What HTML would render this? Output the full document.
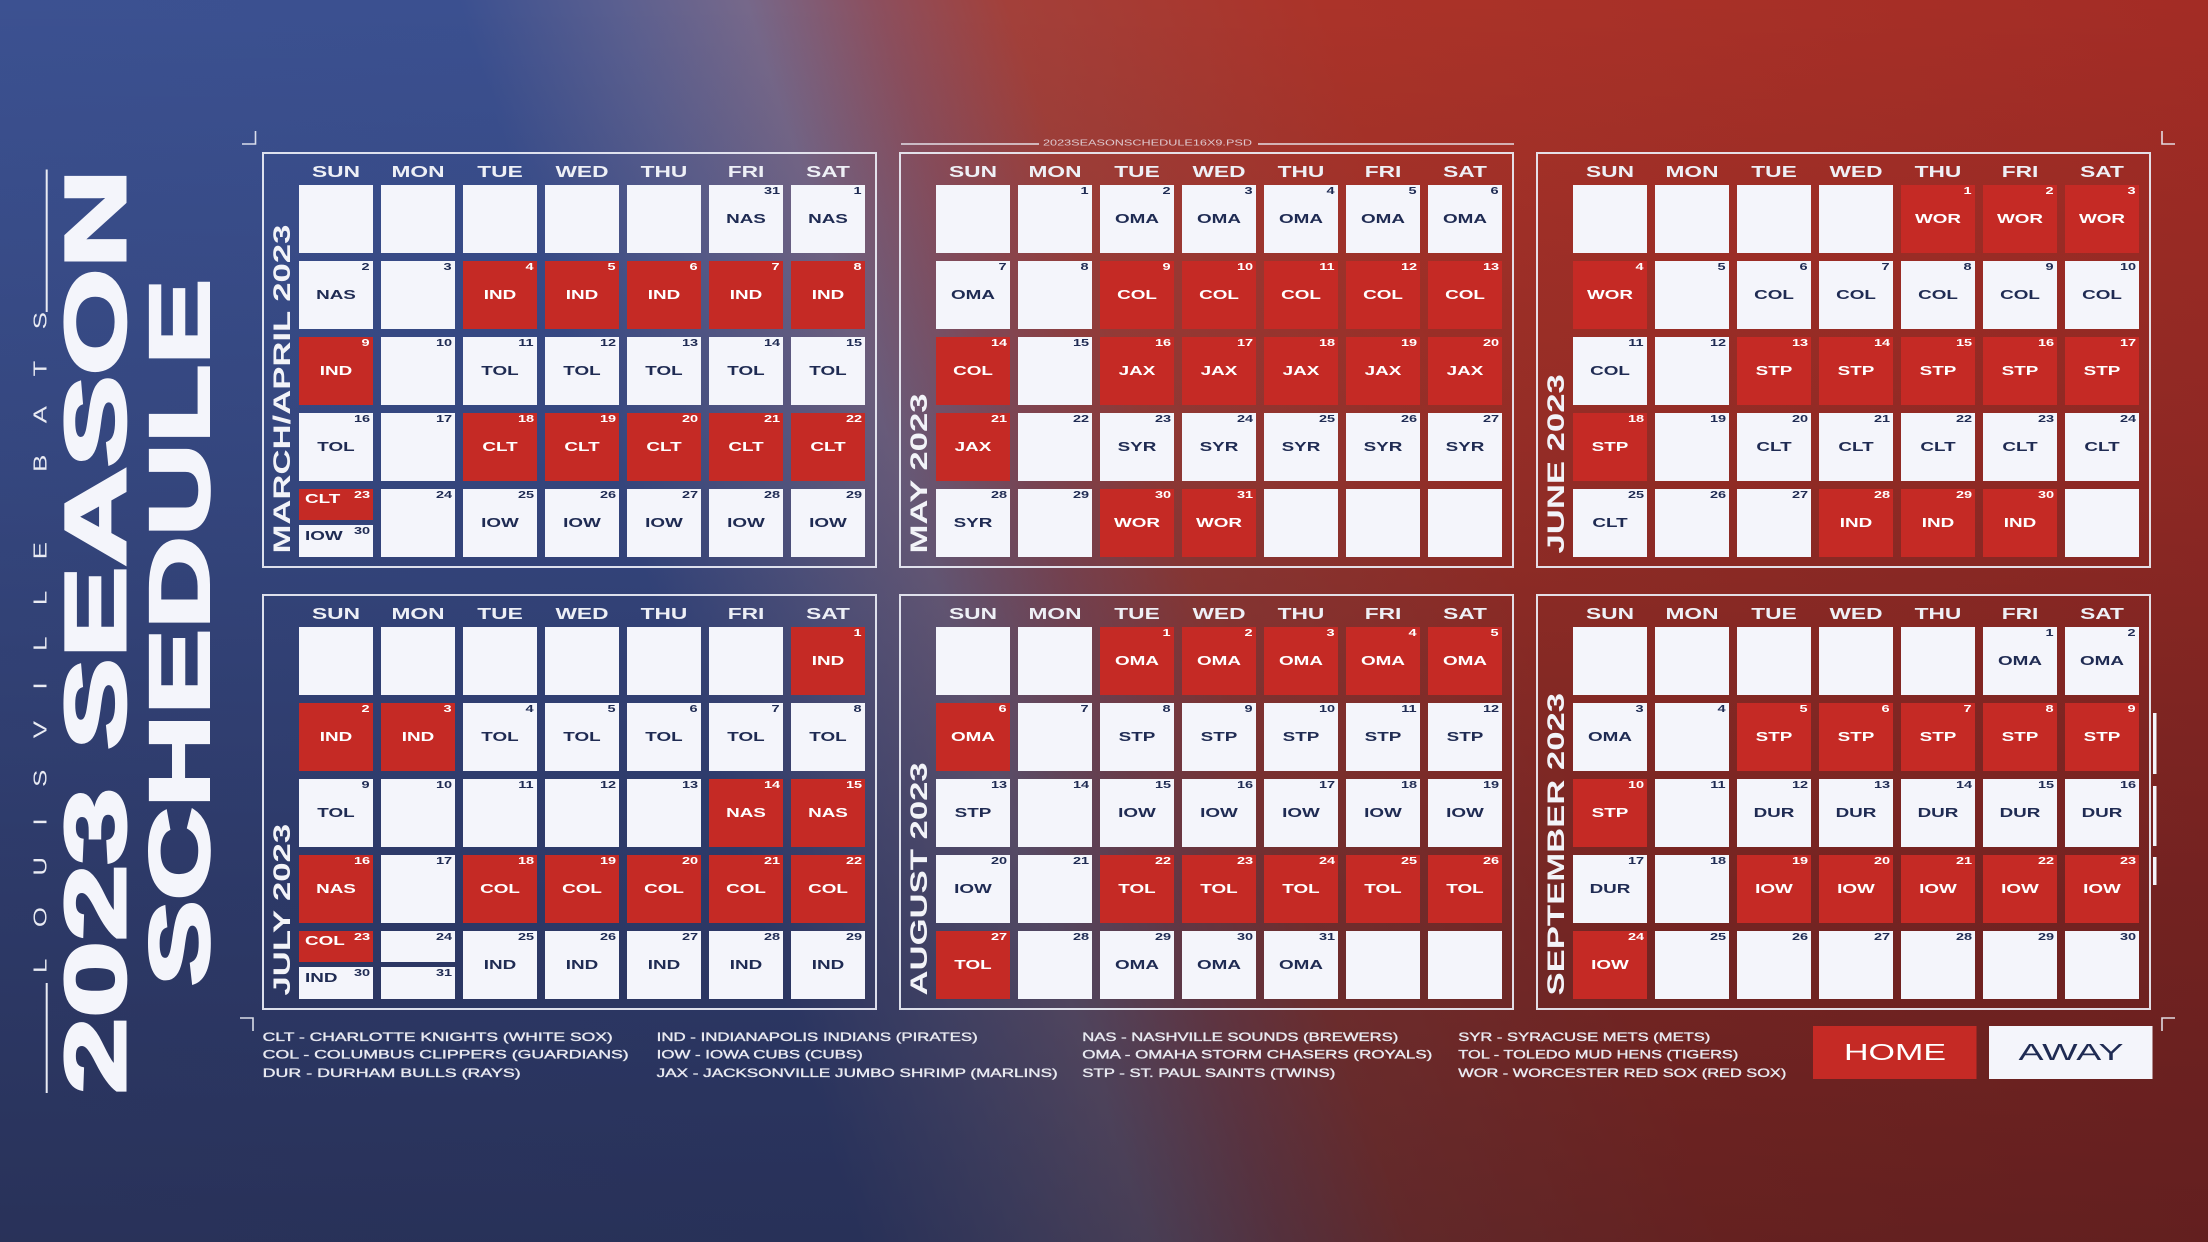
<!DOCTYPE html>
<html><head><meta charset="utf-8">
<style>
*{box-sizing:border-box}
body{margin:0;background:#222}
#w{position:relative;width:2208px;height:1242px;overflow:hidden;font-family:"Liberation Sans",Arial,sans-serif;
background:
linear-gradient(180deg,rgba(0,0,0,0) 0%,rgba(14,10,22,.14) 35%,rgba(16,10,22,.34) 72%,rgba(18,12,22,.46) 100%),
linear-gradient(72deg,#3c5292 0%,#3b5090 33%,#5a5f90 39%,#76688a 44%,#8c4f5e 49%,#a3403a 54%,#ab3329 66%,#a32c25 100%);}
.cal{position:absolute;width:615px;height:416px;border:2px solid rgba(236,238,246,.92)}
.hd{position:absolute;left:35px;top:8px;display:grid;grid-template-columns:repeat(7,74px);column-gap:8px}
.hd span{display:block;text-align:center;font-weight:bold;font-size:16px;line-height:22px;color:#eef0f6;transform:scaleX(1.42)}
.g{position:absolute;left:35px;top:31px;display:grid;grid-template-columns:repeat(7,74px);grid-auto-rows:68px;gap:8px}
.c{position:relative;background:#f4f5fb;color:#1f2b53}
.r{background:#c52a25 !important;color:#fff !important}
.c b{position:absolute;left:0;right:0;top:0;line-height:68px;text-align:center;font-size:13px;font-weight:bold;transform:scaleX(1.45);white-space:nowrap}
.c i{position:absolute;right:3px;top:2px;font-style:normal;font-weight:bold;font-size:10px;line-height:10px;transform:scaleX(1.45);transform-origin:100% 50%}
.c.sp{background:transparent}
.sp .t,.sp .u{position:absolute;left:0;right:0;background:#f4f5fb;color:#1f2b53}
.sp .t{top:0;height:31px}
.sp .u{top:36px;height:32px}
.sp b{left:6px;right:auto;text-align:left;transform-origin:0 50%;line-height:20px}
.sp .u b{line-height:22px}
svg{position:absolute;left:0;top:0}
.ml{font-weight:bold;font-size:23.6px;fill:#f2f3f8}
.lg{font-size:12px;fill:#e9eaf1;stroke:#e9eaf1;stroke-width:.35}
</style></head><body>
<div id="w">

<!-- MARCH / APRIL -->
<div class="cal" style="left:262px;top:152px">
<div class="hd"><span>SUN</span><span>MON</span><span>TUE</span><span>WED</span><span>THU</span><span>FRI</span><span>SAT</span></div>
<div class="g">
<div class="c"></div><div class="c"></div><div class="c"></div><div class="c"></div><div class="c"></div><div class="c"><i>31</i><b>NAS</b></div><div class="c"><i>1</i><b>NAS</b></div>
<div class="c"><i>2</i><b>NAS</b></div><div class="c"><i>3</i></div><div class="c r"><i>4</i><b>IND</b></div><div class="c r"><i>5</i><b>IND</b></div><div class="c r"><i>6</i><b>IND</b></div><div class="c r"><i>7</i><b>IND</b></div><div class="c r"><i>8</i><b>IND</b></div>
<div class="c r"><i>9</i><b>IND</b></div><div class="c"><i>10</i></div><div class="c"><i>11</i><b>TOL</b></div><div class="c"><i>12</i><b>TOL</b></div><div class="c"><i>13</i><b>TOL</b></div><div class="c"><i>14</i><b>TOL</b></div><div class="c"><i>15</i><b>TOL</b></div>
<div class="c"><i>16</i><b>TOL</b></div><div class="c"><i>17</i></div><div class="c r"><i>18</i><b>CLT</b></div><div class="c r"><i>19</i><b>CLT</b></div><div class="c r"><i>20</i><b>CLT</b></div><div class="c r"><i>21</i><b>CLT</b></div><div class="c r"><i>22</i><b>CLT</b></div>
<div class="c sp"><div class="t r"><i>23</i><b>CLT</b></div><div class="u"><i>30</i><b>IOW</b></div></div><div class="c"><i>24</i></div><div class="c"><i>25</i><b>IOW</b></div><div class="c"><i>26</i><b>IOW</b></div><div class="c"><i>27</i><b>IOW</b></div><div class="c"><i>28</i><b>IOW</b></div><div class="c"><i>29</i><b>IOW</b></div>
</div></div>

<!-- MAY -->
<div class="cal" style="left:899px;top:152px">
<div class="hd"><span>SUN</span><span>MON</span><span>TUE</span><span>WED</span><span>THU</span><span>FRI</span><span>SAT</span></div>
<div class="g">
<div class="c"></div><div class="c"><i>1</i></div><div class="c"><i>2</i><b>OMA</b></div><div class="c"><i>3</i><b>OMA</b></div><div class="c"><i>4</i><b>OMA</b></div><div class="c"><i>5</i><b>OMA</b></div><div class="c"><i>6</i><b>OMA</b></div>
<div class="c"><i>7</i><b>OMA</b></div><div class="c"><i>8</i></div><div class="c r"><i>9</i><b>COL</b></div><div class="c r"><i>10</i><b>COL</b></div><div class="c r"><i>11</i><b>COL</b></div><div class="c r"><i>12</i><b>COL</b></div><div class="c r"><i>13</i><b>COL</b></div>
<div class="c r"><i>14</i><b>COL</b></div><div class="c"><i>15</i></div><div class="c r"><i>16</i><b>JAX</b></div><div class="c r"><i>17</i><b>JAX</b></div><div class="c r"><i>18</i><b>JAX</b></div><div class="c r"><i>19</i><b>JAX</b></div><div class="c r"><i>20</i><b>JAX</b></div>
<div class="c r"><i>21</i><b>JAX</b></div><div class="c"><i>22</i></div><div class="c"><i>23</i><b>SYR</b></div><div class="c"><i>24</i><b>SYR</b></div><div class="c"><i>25</i><b>SYR</b></div><div class="c"><i>26</i><b>SYR</b></div><div class="c"><i>27</i><b>SYR</b></div>
<div class="c"><i>28</i><b>SYR</b></div><div class="c"><i>29</i></div><div class="c r"><i>30</i><b>WOR</b></div><div class="c r"><i>31</i><b>WOR</b></div><div class="c"></div><div class="c"></div><div class="c"></div>
</div></div>

<!-- JUNE -->
<div class="cal" style="left:1536px;top:152px">
<div class="hd"><span>SUN</span><span>MON</span><span>TUE</span><span>WED</span><span>THU</span><span>FRI</span><span>SAT</span></div>
<div class="g">
<div class="c"></div><div class="c"></div><div class="c"></div><div class="c"></div><div class="c r"><i>1</i><b>WOR</b></div><div class="c r"><i>2</i><b>WOR</b></div><div class="c r"><i>3</i><b>WOR</b></div>
<div class="c r"><i>4</i><b>WOR</b></div><div class="c"><i>5</i></div><div class="c"><i>6</i><b>COL</b></div><div class="c"><i>7</i><b>COL</b></div><div class="c"><i>8</i><b>COL</b></div><div class="c"><i>9</i><b>COL</b></div><div class="c"><i>10</i><b>COL</b></div>
<div class="c"><i>11</i><b>COL</b></div><div class="c"><i>12</i></div><div class="c r"><i>13</i><b>STP</b></div><div class="c r"><i>14</i><b>STP</b></div><div class="c r"><i>15</i><b>STP</b></div><div class="c r"><i>16</i><b>STP</b></div><div class="c r"><i>17</i><b>STP</b></div>
<div class="c r"><i>18</i><b>STP</b></div><div class="c"><i>19</i></div><div class="c"><i>20</i><b>CLT</b></div><div class="c"><i>21</i><b>CLT</b></div><div class="c"><i>22</i><b>CLT</b></div><div class="c"><i>23</i><b>CLT</b></div><div class="c"><i>24</i><b>CLT</b></div>
<div class="c"><i>25</i><b>CLT</b></div><div class="c"><i>26</i></div><div class="c"><i>27</i></div><div class="c r"><i>28</i><b>IND</b></div><div class="c r"><i>29</i><b>IND</b></div><div class="c r"><i>30</i><b>IND</b></div><div class="c"></div>
</div></div>

<!-- JULY -->
<div class="cal" style="left:262px;top:594px">
<div class="hd"><span>SUN</span><span>MON</span><span>TUE</span><span>WED</span><span>THU</span><span>FRI</span><span>SAT</span></div>
<div class="g">
<div class="c"></div><div class="c"></div><div class="c"></div><div class="c"></div><div class="c"></div><div class="c"></div><div class="c r"><i>1</i><b>IND</b></div>
<div class="c r"><i>2</i><b>IND</b></div><div class="c r"><i>3</i><b>IND</b></div><div class="c"><i>4</i><b>TOL</b></div><div class="c"><i>5</i><b>TOL</b></div><div class="c"><i>6</i><b>TOL</b></div><div class="c"><i>7</i><b>TOL</b></div><div class="c"><i>8</i><b>TOL</b></div>
<div class="c"><i>9</i><b>TOL</b></div><div class="c"><i>10</i></div><div class="c"><i>11</i></div><div class="c"><i>12</i></div><div class="c"><i>13</i></div><div class="c r"><i>14</i><b>NAS</b></div><div class="c r"><i>15</i><b>NAS</b></div>
<div class="c r"><i>16</i><b>NAS</b></div><div class="c"><i>17</i></div><div class="c r"><i>18</i><b>COL</b></div><div class="c r"><i>19</i><b>COL</b></div><div class="c r"><i>20</i><b>COL</b></div><div class="c r"><i>21</i><b>COL</b></div><div class="c r"><i>22</i><b>COL</b></div>
<div class="c sp"><div class="t r"><i>23</i><b>COL</b></div><div class="u"><i>30</i><b>IND</b></div></div><div class="c sp"><div class="t"><i>24</i></div><div class="u"><i>31</i></div></div><div class="c"><i>25</i><b>IND</b></div><div class="c"><i>26</i><b>IND</b></div><div class="c"><i>27</i><b>IND</b></div><div class="c"><i>28</i><b>IND</b></div><div class="c"><i>29</i><b>IND</b></div>
</div></div>

<!-- AUGUST -->
<div class="cal" style="left:899px;top:594px">
<div class="hd"><span>SUN</span><span>MON</span><span>TUE</span><span>WED</span><span>THU</span><span>FRI</span><span>SAT</span></div>
<div class="g">
<div class="c"></div><div class="c"></div><div class="c r"><i>1</i><b>OMA</b></div><div class="c r"><i>2</i><b>OMA</b></div><div class="c r"><i>3</i><b>OMA</b></div><div class="c r"><i>4</i><b>OMA</b></div><div class="c r"><i>5</i><b>OMA</b></div>
<div class="c r"><i>6</i><b>OMA</b></div><div class="c"><i>7</i></div><div class="c"><i>8</i><b>STP</b></div><div class="c"><i>9</i><b>STP</b></div><div class="c"><i>10</i><b>STP</b></div><div class="c"><i>11</i><b>STP</b></div><div class="c"><i>12</i><b>STP</b></div>
<div class="c"><i>13</i><b>STP</b></div><div class="c"><i>14</i></div><div class="c"><i>15</i><b>IOW</b></div><div class="c"><i>16</i><b>IOW</b></div><div class="c"><i>17</i><b>IOW</b></div><div class="c"><i>18</i><b>IOW</b></div><div class="c"><i>19</i><b>IOW</b></div>
<div class="c"><i>20</i><b>IOW</b></div><div class="c"><i>21</i></div><div class="c r"><i>22</i><b>TOL</b></div><div class="c r"><i>23</i><b>TOL</b></div><div class="c r"><i>24</i><b>TOL</b></div><div class="c r"><i>25</i><b>TOL</b></div><div class="c r"><i>26</i><b>TOL</b></div>
<div class="c r"><i>27</i><b>TOL</b></div><div class="c"><i>28</i></div><div class="c"><i>29</i><b>OMA</b></div><div class="c"><i>30</i><b>OMA</b></div><div class="c"><i>31</i><b>OMA</b></div><div class="c"></div><div class="c"></div>
</div></div>

<!-- SEPTEMBER -->
<div class="cal" style="left:1536px;top:594px">
<div class="hd"><span>SUN</span><span>MON</span><span>TUE</span><span>WED</span><span>THU</span><span>FRI</span><span>SAT</span></div>
<div class="g">
<div class="c"></div><div class="c"></div><div class="c"></div><div class="c"></div><div class="c"></div><div class="c"><i>1</i><b>OMA</b></div><div class="c"><i>2</i><b>OMA</b></div>
<div class="c"><i>3</i><b>OMA</b></div><div class="c"><i>4</i></div><div class="c r"><i>5</i><b>STP</b></div><div class="c r"><i>6</i><b>STP</b></div><div class="c r"><i>7</i><b>STP</b></div><div class="c r"><i>8</i><b>STP</b></div><div class="c r"><i>9</i><b>STP</b></div>
<div class="c r"><i>10</i><b>STP</b></div><div class="c"><i>11</i></div><div class="c"><i>12</i><b>DUR</b></div><div class="c"><i>13</i><b>DUR</b></div><div class="c"><i>14</i><b>DUR</b></div><div class="c"><i>15</i><b>DUR</b></div><div class="c"><i>16</i><b>DUR</b></div>
<div class="c"><i>17</i><b>DUR</b></div><div class="c"><i>18</i></div><div class="c r"><i>19</i><b>IOW</b></div><div class="c r"><i>20</i><b>IOW</b></div><div class="c r"><i>21</i><b>IOW</b></div><div class="c r"><i>22</i><b>IOW</b></div><div class="c r"><i>23</i><b>IOW</b></div>
<div class="c r"><i>24</i><b>IOW</b></div><div class="c"><i>25</i></div><div class="c"><i>26</i></div><div class="c"><i>27</i></div><div class="c"><i>28</i></div><div class="c"><i>29</i></div><div class="c"><i>30</i></div>
</div></div>

<svg width="2208" height="1242" viewBox="0 0 2208 1242" xmlns="http://www.w3.org/2000/svg" font-family="Liberation Sans, Arial, sans-serif">
<!-- title -->
<text transform="translate(125,1094) rotate(-90)" font-size="86" font-weight="700" fill="#f4f5fb" stroke="#f4f5fb" stroke-width="3" textLength="925" lengthAdjust="spacingAndGlyphs">2023 SEASON</text>
<text transform="translate(208.5,986) rotate(-90)" font-size="84.5" font-weight="700" fill="#f4f5fb" stroke="#f4f5fb" stroke-width="3" textLength="707" lengthAdjust="spacingAndGlyphs">SCHEDULE</text>
<text transform="translate(46.7,973) rotate(-90) scale(1.4,1)" font-size="18.4" fill="#e9ebf3" letter-spacing="22.5">LOUISVILLE BATS</text>
<rect x="45.7" y="169.5" width="2" height="142.5" fill="#e9ebf3"/>
<rect x="45.7" y="983" width="2" height="110" fill="#e9ebf3"/>

<!-- month labels -->
<text class="ml" transform="translate(290,553.5) rotate(-90) scale(1.47,1)">MARCH/APRIL 2023</text>
<text class="ml" transform="translate(927,553.5) rotate(-90) scale(1.47,1)">MAY 2023</text>
<text class="ml" transform="translate(1564,553.5) rotate(-90) scale(1.47,1)">JUNE 2023</text>
<text class="ml" transform="translate(290,995.5) rotate(-90) scale(1.47,1)">JULY 2023</text>
<text class="ml" transform="translate(927,995.5) rotate(-90) scale(1.47,1)">AUGUST 2023</text>
<text class="ml" transform="translate(1564,995.5) rotate(-90) scale(1.47,1)">SEPTEMBER 2023</text>

<!-- corner marks & top line -->
<g fill="none" stroke="rgba(236,238,246,0.9)" stroke-width="1.6">
<path d="M242 144H255.5V131"/>
<path d="M2175 144H2162V131"/>
<path d="M240 1018H253V1031"/>
<path d="M2175 1018H2162V1031"/>
<path d="M901 144H1039M1258 144H1514"/>
</g>
<text x="1043" y="145.5" font-size="7.8" fill="rgba(240,240,248,0.78)" textLength="209" lengthAdjust="spacingAndGlyphs">2023SEASONSCHEDULE16X9.PSD</text>

<!-- right edge strips -->
<g fill="#f4f5fb">
<rect x="2153" y="713" width="3.5" height="61"/>
<rect x="2153" y="786" width="3.5" height="60"/>
<rect x="2153" y="857" width="3.5" height="28"/>
</g>

<!-- legend -->
<text class="lg" x="262.7" y="1041" textLength="350" lengthAdjust="spacingAndGlyphs">CLT - CHARLOTTE KNIGHTS (WHITE SOX)</text>
<text class="lg" x="262.7" y="1058.7" textLength="366" lengthAdjust="spacingAndGlyphs">COL - COLUMBUS CLIPPERS (GUARDIANS)</text>
<text class="lg" x="262.7" y="1077" textLength="258" lengthAdjust="spacingAndGlyphs">DUR - DURHAM BULLS (RAYS)</text>
<text class="lg" x="656.7" y="1041" textLength="321" lengthAdjust="spacingAndGlyphs">IND - INDIANAPOLIS INDIANS (PIRATES)</text>
<text class="lg" x="656.7" y="1058.7" textLength="206" lengthAdjust="spacingAndGlyphs">IOW - IOWA CUBS (CUBS)</text>
<text class="lg" x="656.7" y="1077" textLength="401" lengthAdjust="spacingAndGlyphs">JAX - JACKSONVILLE JUMBO SHRIMP (MARLINS)</text>
<text class="lg" x="1082.3" y="1041" textLength="316" lengthAdjust="spacingAndGlyphs">NAS - NASHVILLE SOUNDS (BREWERS)</text>
<text class="lg" x="1082.3" y="1058.7" textLength="350" lengthAdjust="spacingAndGlyphs">OMA - OMAHA STORM CHASERS (ROYALS)</text>
<text class="lg" x="1082.3" y="1077" textLength="253" lengthAdjust="spacingAndGlyphs">STP - ST. PAUL SAINTS (TWINS)</text>
<text class="lg" x="1458.3" y="1041" textLength="252" lengthAdjust="spacingAndGlyphs">SYR - SYRACUSE METS (METS)</text>
<text class="lg" x="1458.3" y="1058.7" textLength="280" lengthAdjust="spacingAndGlyphs">TOL - TOLEDO MUD HENS (TIGERS)</text>
<text class="lg" x="1458.3" y="1077" textLength="328" lengthAdjust="spacingAndGlyphs">WOR - WORCESTER RED SOX (RED SOX)</text>

<!-- home / away -->
<rect x="1813" y="1026" width="163.5" height="53" fill="#c52a25"/>
<rect x="1989" y="1026" width="163.5" height="53" fill="#f4f5fb"/>
<text x="1844" y="1060" font-size="23" fill="#ffffff" textLength="102" lengthAdjust="spacingAndGlyphs">HOME</text>
<text x="2018.5" y="1060" font-size="23" fill="#1f2b53" textLength="105" lengthAdjust="spacingAndGlyphs">AWAY</text>
</svg>
</div>
</body></html>
